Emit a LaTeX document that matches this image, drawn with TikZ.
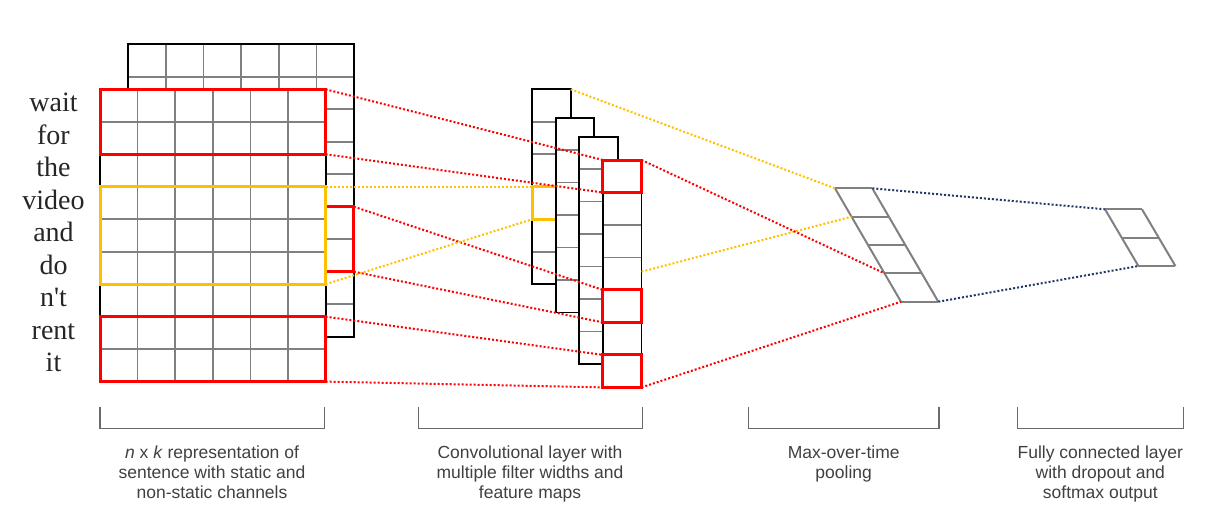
\documentclass[tikz,border=0pt]{standalone}
\usepackage{fontspec}
\setmainfont{Liberation Serif}
\newfontfamily\labfont{Liberation Sans}
\usetikzlibrary{calc}
\definecolor{gridgray}{HTML}{808080}
\definecolor{myred}{HTML}{FF0000}
\definecolor{myyel}{HTML}{FFC000}
\definecolor{mynavy}{HTML}{1F3864}
\definecolor{labgray}{HTML}{404040}
\definecolor{wordcol}{HTML}{262626}
\definecolor{brackgray}{HTML}{6A6A6A}
\begin{document}
\begin{tikzpicture}[x=1pt,y=-1pt,
  box/.style={rectangle, inner sep=0pt, outer sep=0pt},
  fillbox/.style={box, fill=white},
  gridline/.style={draw=gridgray, line width=1.6pt},
  border/.style={draw=black, line width=1.8pt},
  redbox/.style={box, draw=myred, line width=3pt},
  yelbox/.style={box, draw=myyel, line width=3pt},
  reddot/.style={draw=myred, line width=2pt, dash pattern=on 2pt off 2pt},
  yeldot/.style={draw=myyel, line width=2pt, dash pattern=on 2pt off 2pt},
  navydot/.style={draw=mynavy, line width=2pt, dash pattern=on 2pt off 2pt},
  poolline/.style={draw=gridgray, line width=2pt},
  brack/.style={draw=brackgray, line width=1.5pt},
  word/.style={anchor=base, inner sep=0pt, text=wordcol, font=\fontsize{28}{30}\selectfont},
  lab/.style={anchor=base, align=center, inner sep=0pt, text=labgray, font=\labfont\fontsize{17.5}{20}\selectfont}
]
\useasboundingbox (0,0) rectangle (1212,515);

% ---------- back matrix (second channel) ----------
\node[fillbox, minimum width=225.6pt, minimum height=292.32pt] (back) at (241.1,190.46) {};
\foreach \i in {1,...,5}
  \draw[gridline] ($(back.north west)+(\i*37.6,0)$) -- ($(back.south west)+(\i*37.6,0)$);
\foreach \j in {1,...,8}
  \draw[gridline] ($(back.north west)+(0,\j*32.48)$) -- ($(back.north east)+(0,\j*32.48)$);
\draw[border] (back.north west) rectangle (back.south east);
\node[redbox, minimum width=225.6pt, minimum height=64.96pt] (backsel) at (241.1,239.18) {};

% ---------- front matrix ----------
\node[fillbox, minimum width=225.6pt, minimum height=292.32pt] (front) at (212.8,235.46) {};
\foreach \i in {1,...,5}
  \draw[gridline] ($(front.north west)+(\i*37.6,0)$) -- ($(front.south west)+(\i*37.6,0)$);
\foreach \j in {1,...,8}
  \draw[gridline] ($(front.north west)+(0,\j*32.48)$) -- ($(front.north east)+(0,\j*32.48)$);
\draw[border] (front.north west) rectangle (front.south east);
\node[redbox, minimum width=225.6pt, minimum height=64.96pt] (sel1) at (212.8,121.78) {};
\node[yelbox, minimum width=225.6pt, minimum height=97.44pt] (ysel) at (212.8,235.46) {};
\node[redbox, minimum width=225.6pt, minimum height=64.96pt] (sel3) at (212.8,349.14) {};

% ---------- words ----------
\foreach \w [count=\j from 0] in {wait,for,the,video,and,do,n\textquotesingle t,rent,it}
  \node[word] (w\j) at (53.5,{111.7+32.48*\j}) {\w};

% ---------- convolutional feature maps ----------
% column 1
\node[fillbox, minimum width=38.4pt, minimum height=194.88pt] (col1) at (551.5,186.74) {};
\foreach \j in {1,...,5}
  \draw[gridline] ($(col1.north west)+(0,\j*32.48)$) -- ($(col1.north east)+(0,\j*32.48)$);
\draw[border] (col1.north west) rectangle (col1.south east);
\node[yelbox, minimum width=38.4pt, minimum height=32.48pt] (yc) at (551.5,202.98) {};
% column 2
\node[fillbox, minimum width=38.4pt, minimum height=194.88pt] (col2) at (575.15,215.14) {};
\foreach \j in {1,...,5}
  \draw[gridline] ($(col2.north west)+(0,\j*32.48)$) -- ($(col2.north east)+(0,\j*32.48)$);
\draw[border] (col2.north west) rectangle (col2.south east);
% column 3
\node[fillbox, minimum width=38.4pt, minimum height=227.36pt] (col3) at (598.5,250.38) {};
\foreach \j in {1,...,6}
  \draw[gridline] ($(col3.north west)+(0,\j*32.48)$) -- ($(col3.north east)+(0,\j*32.48)$);
\draw[border] (col3.north west) rectangle (col3.south east);
% column 4
\node[fillbox, minimum width=38.6pt, minimum height=227.36pt] (col4) at (622.2,273.68) {};
\foreach \j in {1,...,6}
  \draw[gridline] ($(col4.north west)+(0,\j*32.48)$) -- ($(col4.north east)+(0,\j*32.48)$);
\draw[border] (col4.north west) rectangle (col4.south east);
\node[redbox, minimum width=38.6pt, minimum height=32.48pt] (r0) at (622.2,176.24) {};
\node[redbox, minimum width=38.6pt, minimum height=32.48pt] (r4) at (622.2,306.16) {};
\node[redbox, minimum width=38.6pt, minimum height=32.48pt] (r6) at (622.2,371.12) {};
\coordinate (y2s) at ($(col4.north east)+(0,111.7)$);

% ---------- max-over-time pooling ----------
\foreach \k in {0,...,4} {
  \coordinate (pl\k) at ({835+16.5*\k},{188.3+28.35*\k});
  \coordinate (pr\k) at ({872.3+16.5*\k},{188.3+28.35*\k});
}
\draw[poolline] (pl0) -- (pl4);
\draw[poolline] (pr0) -- (pr4);
\foreach \k in {0,...,4}
  \draw[poolline] (pl\k) -- (pr\k);

% ---------- fully connected ----------
\foreach \k in {0,...,2} {
  \coordinate (fl\k) at ({1105+16.7*\k},{209.3+28.35*\k});
  \coordinate (fr\k) at ({1142+16.7*\k},{209.3+28.35*\k});
}
\draw[poolline] (fl0) -- (fl2);
\draw[poolline] (fr0) -- (fr2);
\foreach \k in {0,...,2}
  \draw[poolline] (fl\k) -- (fr\k);

% ---------- connectors ----------
\draw[reddot] (sel1.north east) -- (r0.north west);
\draw[reddot] (sel1.south east) -- (r0.south west);
\draw[reddot] (backsel.north east) -- (r4.north west);
\draw[reddot] (backsel.south east) -- (r4.south west);
\draw[reddot] (sel3.north east) -- (r6.north west);
\draw[reddot] (sel3.south east) -- (r6.south west);
\draw[yeldot] (ysel.north east) -- (yc.north west);
\draw[yeldot] (ysel.south east) -- (yc.south west);
\draw[yeldot] (col1.north east) -- (pl0);
\draw[yeldot] (y2s) -- (pl1);
\draw[reddot] (col4.north east) -- (pl3);
\draw[reddot] (col4.south east) -- (pl4);
\draw[navydot] (pr0) -- (fl0);
\draw[navydot] (pr4) -- (fl2);

% ---------- brackets ----------
\draw[brack] (100,407) -- (100,428.3) -- (324.3,428.3) -- (324.3,407);
\draw[brack] (418.3,407) -- (418.3,428.3) -- (642.3,428.3) -- (642.3,407);
\draw[brack] (748.3,407) -- (748.3,428.3) -- (939,428.3) -- (939,407);
\draw[brack] (1017.3,407) -- (1017.3,428.3) -- (1183.3,428.3) -- (1183.3,407);

% ---------- labels (base = baseline of the last line) ----------
\node[lab] (lab1) at (212,498.3) {\textit{n} x \textit{k} representation of\\sentence with static and\\non-static channels};
\node[lab] (lab2) at (530,498.3) {Convolutional layer with\\multiple filter widths and\\feature maps};
\node[lab] (lab3) at (843.7,478.3) {Max-over-time\\pooling};
\node[lab] (lab4) at (1100.3,498.3) {Fully connected layer\\with dropout and\\softmax output};
\end{tikzpicture}
\end{document}
